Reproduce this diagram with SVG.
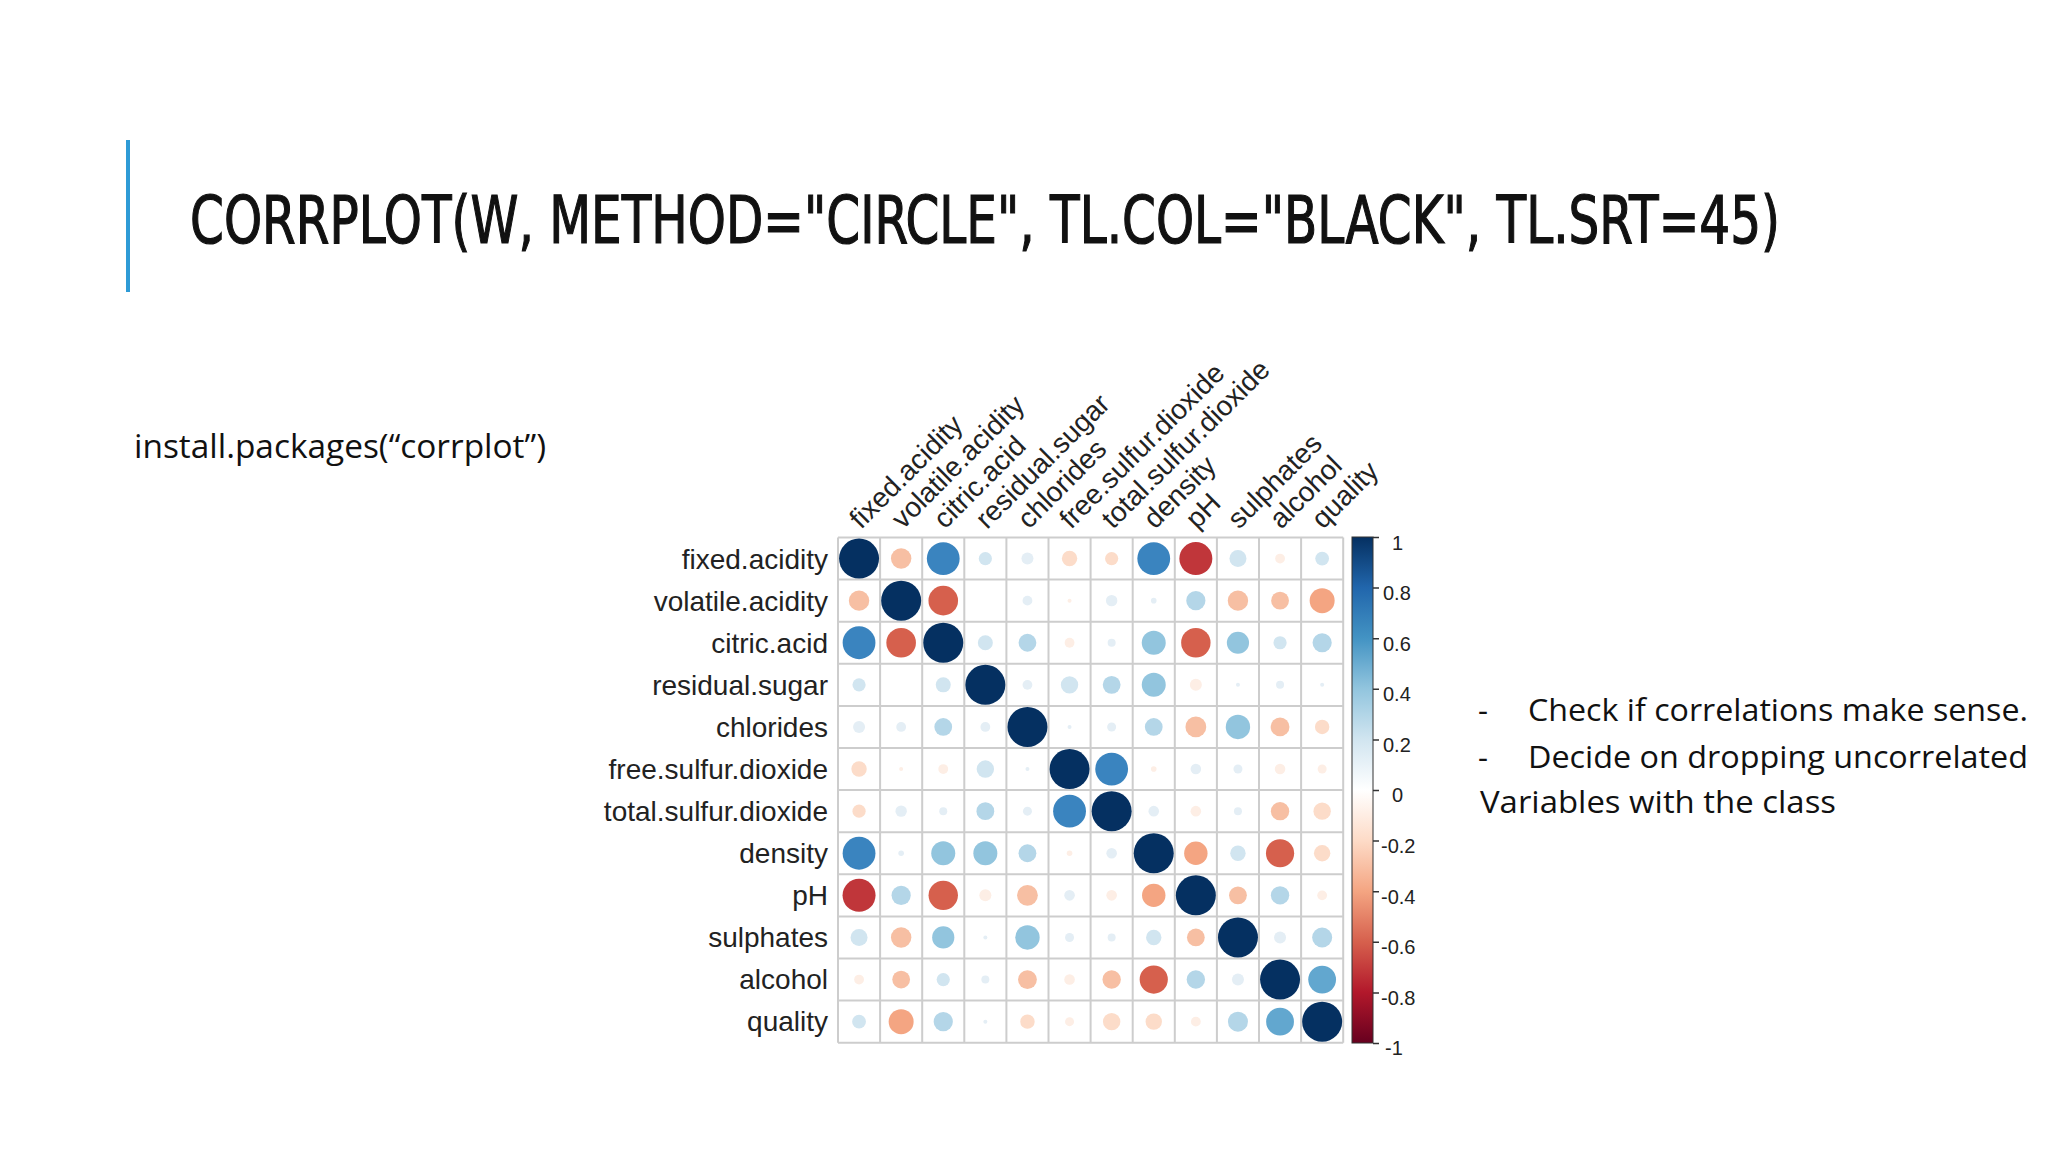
<svg xmlns="http://www.w3.org/2000/svg" width="2048" height="1152" viewBox="0 0 2048 1152">
<style>
.t{font-family:"DejaVu Sans Condensed","DejaVu Sans",sans-serif;font-size:66px;fill:#111;stroke:#111;stroke-width:1.2}
.p{font-family:"Open Sans","Liberation Sans",sans-serif;fill:#111}
.l{font-family:"Liberation Sans",Arial,sans-serif;font-size:28px;fill:#222}
.k{font-family:"Liberation Sans",Arial,sans-serif;font-size:20px;fill:#222}
.g{stroke:#cdcdcd;stroke-width:2}
.b1{fill:#E4EEF5}.b2{fill:#D1E5F0}.b3{fill:#B4D6E8}.b4{fill:#92C5DE}.b5{fill:#62A7CF}.b7{fill:#3A84BF}.d{fill:#053061}
.r1{fill:#FDEEE5}.r2{fill:#FCDCC9}.r3{fill:#F7BFA3}.r4{fill:#F4A582}.r6{fill:#D6604D}.r7{fill:#C0363A}
</style>
<defs>
<linearGradient id="cb" x1="0" y1="0" x2="0" y2="1">
<stop offset="0" stop-color="#053061"/><stop offset="0.1" stop-color="#2166AC"/><stop offset="0.2" stop-color="#4393C3"/><stop offset="0.3" stop-color="#92C5DE"/><stop offset="0.4" stop-color="#D1E5F0"/><stop offset="0.5" stop-color="#FFFFFF"/><stop offset="0.6" stop-color="#FDDBC7"/><stop offset="0.7" stop-color="#F4A582"/><stop offset="0.8" stop-color="#D6604D"/><stop offset="0.9" stop-color="#B2182B"/><stop offset="1" stop-color="#67001F"/>
</linearGradient>
</defs>
<rect width="2048" height="1152" fill="#fff"/>
<g id="title">
<rect x="126" y="140" width="4" height="152" fill="#2e9bd6"/>
<text class="t" x="190" y="243" textLength="1590" lengthAdjust="spacingAndGlyphs">CORRPLOT(W, METHOD="CIRCLE", TL.COL="BLACK", TL.SRT=45)</text>
</g>
<text id="install" class="p" x="134" y="458" font-size="32" textLength="412" lengthAdjust="spacingAndGlyphs">install.packages(“corrplot”)</text>
<g id="notes" class="p" font-size="31">
<text x="1478" y="721">-</text><text x="1528" y="721" textLength="500" lengthAdjust="spacingAndGlyphs">Check if correlations make sense.</text>
<text x="1478" y="768">-</text><text x="1528" y="768" textLength="500" lengthAdjust="spacingAndGlyphs">Decide on dropping uncorrelated</text>
<text x="1480" y="813" textLength="356" lengthAdjust="spacingAndGlyphs">Variables with the class</text>
</g>
<g id="rowlabels" class="l" text-anchor="end">
<text x="828" y="569">fixed.acidity</text><text x="828" y="611">volatile.acidity</text><text x="828" y="653">citric.acid</text><text x="828" y="695">residual.sugar</text><text x="828" y="737">chlorides</text><text x="828" y="779">free.sulfur.dioxide</text><text x="828" y="821">total.sulfur.dioxide</text><text x="828" y="863">density</text><text x="828" y="905">pH</text><text x="828" y="947">sulphates</text><text x="828" y="989">alcohol</text><text x="828" y="1031">quality</text>
</g>
<g id="collabels" class="l">
<text transform="translate(861 530) rotate(-45)">fixed.acidity</text>
<text transform="translate(903 530) rotate(-45)">volatile.acidity</text>
<text transform="translate(945 530) rotate(-45)">citric.acid</text>
<text transform="translate(987 530) rotate(-45)">residual.sugar</text>
<text transform="translate(1029 530) rotate(-45)">chlorides</text>
<text transform="translate(1071 530) rotate(-45)">free.sulfur.dioxide</text>
<text transform="translate(1113 530) rotate(-45)">total.sulfur.dioxide</text>
<text transform="translate(1155 530) rotate(-45)">density</text>
<text transform="translate(1197 530) rotate(-45)">pH</text>
<text transform="translate(1239 530) rotate(-45)">sulphates</text>
<text transform="translate(1281 530) rotate(-45)">alcohol</text>
<text transform="translate(1323 530) rotate(-45)">quality</text>
</g>
<g id="matrix" transform="translate(838 537.5)">
<g id="grid" class="g">
<path d="M0 0V505.2M42.1 0V505.2M84.2 0V505.2M126.3 0V505.2M168.4 0V505.2M210.5 0V505.2M252.6 0V505.2M294.7 0V505.2M336.8 0V505.2M378.9 0V505.2M421 0V505.2M463.1 0V505.2M505.2 0V505.2"/>
<path d="M0 0H505.2M0 42.1H505.2M0 84.2H505.2M0 126.3H505.2M0 168.4H505.2M0 210.5H505.2M0 252.6H505.2M0 294.7H505.2M0 336.8H505.2M0 378.9H505.2M0 421H505.2M0 463.1H505.2M0 505.2H505.2"/>
</g>
<g id="diag" class="d">
<circle cx="21.05" cy="21.05" r="20"/><circle cx="63.15" cy="63.15" r="20"/><circle cx="105.25" cy="105.25" r="20"/><circle cx="147.35" cy="147.35" r="20"/><circle cx="189.45" cy="189.45" r="20"/><circle cx="231.55" cy="231.55" r="20"/><circle cx="273.65" cy="273.65" r="20"/><circle cx="315.75" cy="315.75" r="20"/><circle cx="357.85" cy="357.85" r="20"/><circle cx="399.95" cy="399.95" r="20"/><circle cx="442.05" cy="442.05" r="20"/><circle cx="484.15" cy="484.15" r="20"/>
</g>
<g id="upper">
<circle class="r3" cx="63.15" cy="21.05" r="10.2"/><circle class="b7" cx="105.25" cy="21.05" r="16.4"/><circle class="b2" cx="147.35" cy="21.05" r="6.6"/><circle class="b1" cx="189.45" cy="21.05" r="6"/><circle class="r2" cx="231.55" cy="21.05" r="7.7"/><circle class="r2" cx="273.65" cy="21.05" r="6.6"/><circle class="b7" cx="315.75" cy="21.05" r="16.4"/><circle class="r7" cx="357.85" cy="21.05" r="16.5"/><circle class="b2" cx="399.95" cy="21.05" r="8.5"/><circle class="r1" cx="442.05" cy="21.05" r="4.9"/><circle class="b2" cx="484.15" cy="21.05" r="6.9"/>
<circle class="r6" cx="105.25" cy="63.15" r="14.8"/><circle class="b1" cx="189.45" cy="63.15" r="4.9"/><circle class="r1" cx="231.55" cy="63.15" r="2"/><circle class="b1" cx="273.65" cy="63.15" r="5.7"/><circle class="b1" cx="315.75" cy="63.15" r="2.8"/><circle class="b3" cx="357.85" cy="63.15" r="9.6"/><circle class="r3" cx="399.95" cy="63.15" r="10.2"/><circle class="r3" cx="442.05" cy="63.15" r="8.9"/><circle class="r4" cx="484.15" cy="63.15" r="12.5"/>
<circle class="b2" cx="147.35" cy="105.25" r="7.5"/><circle class="b3" cx="189.45" cy="105.25" r="8.9"/><circle class="r1" cx="231.55" cy="105.25" r="4.9"/><circle class="b1" cx="273.65" cy="105.25" r="4"/><circle class="b4" cx="315.75" cy="105.25" r="12"/><circle class="r6" cx="357.85" cy="105.25" r="14.7"/><circle class="b4" cx="399.95" cy="105.25" r="11.1"/><circle class="b2" cx="442.05" cy="105.25" r="6.6"/><circle class="b3" cx="484.15" cy="105.25" r="9.6"/>
<circle class="b1" cx="189.45" cy="147.35" r="4.9"/><circle class="b2" cx="231.55" cy="147.35" r="8.7"/><circle class="b3" cx="273.65" cy="147.35" r="8.9"/><circle class="b4" cx="315.75" cy="147.35" r="12"/><circle class="r1" cx="357.85" cy="147.35" r="6"/><circle class="b1" cx="399.95" cy="147.35" r="2"/><circle class="b1" cx="442.05" cy="147.35" r="4"/><circle class="b1" cx="484.15" cy="147.35" r="2"/>
<circle class="b1" cx="231.55" cy="189.45" r="2"/><circle class="b1" cx="273.65" cy="189.45" r="4.5"/><circle class="b3" cx="315.75" cy="189.45" r="8.9"/><circle class="r3" cx="357.85" cy="189.45" r="10.4"/><circle class="b4" cx="399.95" cy="189.45" r="12.2"/><circle class="r3" cx="442.05" cy="189.45" r="9.4"/><circle class="r2" cx="484.15" cy="189.45" r="7.2"/>
<circle class="b7" cx="273.65" cy="231.55" r="16.4"/><circle class="r1" cx="315.75" cy="231.55" r="2.8"/><circle class="b1" cx="357.85" cy="231.55" r="5.3"/><circle class="b1" cx="399.95" cy="231.55" r="4.5"/><circle class="r1" cx="442.05" cy="231.55" r="5.3"/><circle class="r1" cx="484.15" cy="231.55" r="4.5"/>
<circle class="b1" cx="315.75" cy="273.65" r="5.3"/><circle class="r1" cx="357.85" cy="273.65" r="5.3"/><circle class="b1" cx="399.95" cy="273.65" r="4"/><circle class="r3" cx="442.05" cy="273.65" r="9.2"/><circle class="r2" cx="484.15" cy="273.65" r="8.7"/>
<circle class="r4" cx="357.85" cy="315.75" r="11.7"/><circle class="b2" cx="399.95" cy="315.75" r="7.7"/><circle class="r6" cx="442.05" cy="315.75" r="14.1"/><circle class="r2" cx="484.15" cy="315.75" r="8.2"/>
<circle class="r3" cx="399.95" cy="357.85" r="8.9"/><circle class="b3" cx="442.05" cy="357.85" r="9.2"/><circle class="r1" cx="484.15" cy="357.85" r="4.9"/>
<circle class="b1" cx="442.05" cy="399.95" r="6"/><circle class="b3" cx="484.15" cy="399.95" r="10"/>
<circle class="b5" cx="484.15" cy="442.05" r="13.9"/>
</g>
<g id="lower">
<circle class="r3" cy="63.15" cx="21.05" r="10.2"/><circle class="b7" cy="105.25" cx="21.05" r="16.4"/><circle class="b2" cy="147.35" cx="21.05" r="6.6"/><circle class="b1" cy="189.45" cx="21.05" r="6"/><circle class="r2" cy="231.55" cx="21.05" r="7.7"/><circle class="r2" cy="273.65" cx="21.05" r="6.6"/><circle class="b7" cy="315.75" cx="21.05" r="16.4"/><circle class="r7" cy="357.85" cx="21.05" r="16.5"/><circle class="b2" cy="399.95" cx="21.05" r="8.5"/><circle class="r1" cy="442.05" cx="21.05" r="4.9"/><circle class="b2" cy="484.15" cx="21.05" r="6.9"/>
<circle class="r6" cy="105.25" cx="63.15" r="14.8"/><circle class="b1" cy="189.45" cx="63.15" r="4.9"/><circle class="r1" cy="231.55" cx="63.15" r="2"/><circle class="b1" cy="273.65" cx="63.15" r="5.7"/><circle class="b1" cy="315.75" cx="63.15" r="2.8"/><circle class="b3" cy="357.85" cx="63.15" r="9.6"/><circle class="r3" cy="399.95" cx="63.15" r="10.2"/><circle class="r3" cy="442.05" cx="63.15" r="8.9"/><circle class="r4" cy="484.15" cx="63.15" r="12.5"/>
<circle class="b2" cy="147.35" cx="105.25" r="7.5"/><circle class="b3" cy="189.45" cx="105.25" r="8.9"/><circle class="r1" cy="231.55" cx="105.25" r="4.9"/><circle class="b1" cy="273.65" cx="105.25" r="4"/><circle class="b4" cy="315.75" cx="105.25" r="12"/><circle class="r6" cy="357.85" cx="105.25" r="14.7"/><circle class="b4" cy="399.95" cx="105.25" r="11.1"/><circle class="b2" cy="442.05" cx="105.25" r="6.6"/><circle class="b3" cy="484.15" cx="105.25" r="9.6"/>
<circle class="b1" cy="189.45" cx="147.35" r="4.9"/><circle class="b2" cy="231.55" cx="147.35" r="8.7"/><circle class="b3" cy="273.65" cx="147.35" r="8.9"/><circle class="b4" cy="315.75" cx="147.35" r="12"/><circle class="r1" cy="357.85" cx="147.35" r="6"/><circle class="b1" cy="399.95" cx="147.35" r="2"/><circle class="b1" cy="442.05" cx="147.35" r="4"/><circle class="b1" cy="484.15" cx="147.35" r="2"/>
<circle class="b1" cy="231.55" cx="189.45" r="2"/><circle class="b1" cy="273.65" cx="189.45" r="4.5"/><circle class="b3" cy="315.75" cx="189.45" r="8.9"/><circle class="r3" cy="357.85" cx="189.45" r="10.4"/><circle class="b4" cy="399.95" cx="189.45" r="12.2"/><circle class="r3" cy="442.05" cx="189.45" r="9.4"/><circle class="r2" cy="484.15" cx="189.45" r="7.2"/>
<circle class="b7" cy="273.65" cx="231.55" r="16.4"/><circle class="r1" cy="315.75" cx="231.55" r="2.8"/><circle class="b1" cy="357.85" cx="231.55" r="5.3"/><circle class="b1" cy="399.95" cx="231.55" r="4.5"/><circle class="r1" cy="442.05" cx="231.55" r="5.3"/><circle class="r1" cy="484.15" cx="231.55" r="4.5"/>
<circle class="b1" cy="315.75" cx="273.65" r="5.3"/><circle class="r1" cy="357.85" cx="273.65" r="5.3"/><circle class="b1" cy="399.95" cx="273.65" r="4"/><circle class="r3" cy="442.05" cx="273.65" r="9.2"/><circle class="r2" cy="484.15" cx="273.65" r="8.7"/>
<circle class="r4" cy="357.85" cx="315.75" r="11.7"/><circle class="b2" cy="399.95" cx="315.75" r="7.7"/><circle class="r6" cy="442.05" cx="315.75" r="14.1"/><circle class="r2" cy="484.15" cx="315.75" r="8.2"/>
<circle class="r3" cy="399.95" cx="357.85" r="8.9"/><circle class="b3" cy="442.05" cx="357.85" r="9.2"/><circle class="r1" cy="484.15" cx="357.85" r="4.9"/>
<circle class="b1" cy="442.05" cx="399.95" r="6"/><circle class="b3" cy="484.15" cx="399.95" r="10"/>
<circle class="b5" cy="484.15" cx="442.05" r="13.9"/>
</g>
</g>
<g id="colorbar">
<rect x="1352" y="537" width="21" height="506" fill="url(#cb)" stroke="#333" stroke-width="1"/>
<path d="M1373 537.5h6M1373 588.1h6M1373 638.7h6M1373 689.3h6M1373 739.9h6M1373 790.5h6M1373 841.1h6M1373 891.7h6M1373 942.3h6M1373 992.9h6M1373 1043.5h6" stroke="#333" stroke-width="1.5"/>
<g class="k">
<text x="1392" y="550">1</text><text x="1383" y="600">0.8</text><text x="1383" y="651">0.6</text><text x="1383" y="701">0.4</text><text x="1383" y="752">0.2</text><text x="1392" y="802">0</text><text x="1381" y="853">-0.2</text><text x="1381" y="904">-0.4</text><text x="1381" y="954">-0.6</text><text x="1381" y="1005">-0.8</text><text x="1385" y="1055">-1</text>
</g>
</g>
</svg>
